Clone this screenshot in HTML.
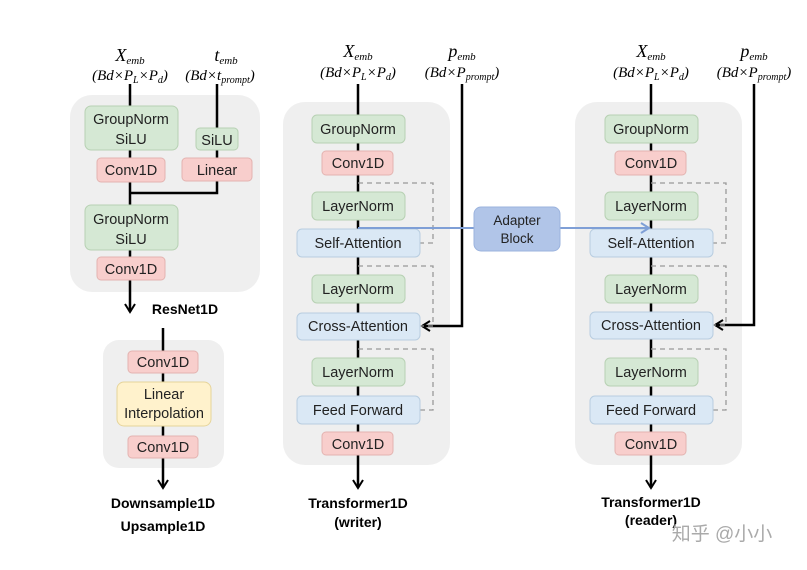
<!DOCTYPE html>
<html><head><meta charset="utf-8"><style>
body{margin:0;background:#fff;}
svg text{font-family:"Liberation Sans",sans-serif;}
.m{font-family:"Liberation Serif",serif;font-style:italic;}
</style></head><body>
<svg width="807" height="565" viewBox="0 0 807 565" xmlns="http://www.w3.org/2000/svg">
<defs>
<marker id="a" markerWidth="12" markerHeight="12" refX="9" refY="6" orient="auto" markerUnits="userSpaceOnUse"><path d="M1,1 L9,6 L1,11" fill="none" stroke="#000" stroke-width="2"/></marker>
<marker id="b" markerWidth="12" markerHeight="12" refX="9" refY="6" orient="auto" markerUnits="userSpaceOnUse"><path d="M1,1 L9,6 L1,11" fill="none" stroke="#7f9fd6" stroke-width="2"/></marker>
</defs>
<g fill="#efefef">
<rect x="70" y="95" width="190" height="197" rx="22"/>
<rect x="103" y="340" width="121" height="128" rx="16"/>
<rect x="283" y="102" width="167" height="363" rx="22"/>
<rect x="575" y="102" width="167" height="363" rx="22"/>
</g>
<g font-size="18" text-anchor="middle" fill="#000">
<text x="130" y="61" class="m">X<tspan font-size="11" dy="3">emb</tspan></text>
<text x="130" y="80" class="m" font-size="15">(Bd×P<tspan font-size="10" dy="3">L</tspan><tspan dy="-3">×P</tspan><tspan font-size="10" dy="3">d</tspan><tspan dy="-3">)</tspan></text>
<text x="226" y="61" class="m">t<tspan font-size="11" dy="3">emb</tspan></text>
<text x="220" y="80" class="m" font-size="15">(Bd×t<tspan font-size="10" dy="3">prompt</tspan><tspan dy="-3">)</tspan></text>
<text x="358" y="57" class="m">X<tspan font-size="11" dy="3">emb</tspan></text>
<text x="358" y="77" class="m" font-size="15">(Bd×P<tspan font-size="10" dy="3">L</tspan><tspan dy="-3">×P</tspan><tspan font-size="10" dy="3">d</tspan><tspan dy="-3">)</tspan></text>
<text x="462" y="57" class="m">p<tspan font-size="11" dy="3">emb</tspan></text>
<text x="462" y="77" class="m" font-size="15">(Bd×P<tspan font-size="10" dy="3">prompt</tspan><tspan dy="-3">)</tspan></text>
<text x="651" y="57" class="m">X<tspan font-size="11" dy="3">emb</tspan></text>
<text x="651" y="77" class="m" font-size="15">(Bd×P<tspan font-size="10" dy="3">L</tspan><tspan dy="-3">×P</tspan><tspan font-size="10" dy="3">d</tspan><tspan dy="-3">)</tspan></text>
<text x="754" y="57" class="m">p<tspan font-size="11" dy="3">emb</tspan></text>
<text x="754" y="77" class="m" font-size="15">(Bd×P<tspan font-size="10" dy="3">prompt</tspan><tspan dy="-3">)</tspan></text>
</g>
<g stroke="#000" stroke-width="2.5" fill="none">
<line x1="130" y1="84" x2="130" y2="312" marker-end="url(#a)"/>
<path d="M217 84 V193 H130"/>
<line x1="163" y1="328" x2="163" y2="488" marker-end="url(#a)"/>
<line x1="358" y1="84" x2="358" y2="488" marker-end="url(#a)"/>
<path d="M462 84 V326 H422" marker-end="url(#a)"/>
<line x1="651" y1="84" x2="651" y2="488" marker-end="url(#a)"/>
<path d="M754 84 V325 H715" marker-end="url(#a)"/>
</g>
<g stroke="#999" stroke-width="1.3" stroke-dasharray="5,4" fill="none">
<path d="M358 183 H433 V243 H420"/><path d="M358 266 H433 V326 H420"/><path d="M358 349 H433 V410 H420"/>
<path d="M651 183 H726 V243 H713"/><path d="M651 266 H726 V325 H713"/><path d="M651 349 H726 V410 H713"/>
</g>
<g stroke-width="1">
<g fill="#d5e8d4" stroke="#b7d1b3">
<rect x="85" y="106" width="93" height="44" rx="6"/><rect x="196" y="128" width="42" height="22" rx="4"/>
<rect x="85" y="205" width="93" height="45" rx="6"/>
<rect x="312" y="115" width="93" height="28" rx="5"/><rect x="312" y="192" width="93" height="28" rx="5"/><rect x="312" y="275" width="93" height="28" rx="5"/><rect x="312" y="358" width="93" height="28" rx="5"/>
<rect x="605" y="115" width="93" height="28" rx="5"/><rect x="605" y="192" width="93" height="28" rx="5"/><rect x="605" y="275" width="93" height="28" rx="5"/><rect x="605" y="358" width="93" height="28" rx="5"/>
</g>
<g fill="#f8cecc" stroke="#e3b3b0">
<rect x="97" y="158" width="68" height="24" rx="4"/><rect x="182" y="158" width="70" height="23" rx="4"/><rect x="97" y="257" width="68" height="23" rx="4"/>
<rect x="128" y="351" width="70" height="22" rx="4"/><rect x="128" y="436" width="70" height="22" rx="4"/>
<rect x="322" y="151" width="71" height="24" rx="4"/><rect x="322" y="432" width="71" height="23" rx="4"/>
<rect x="615" y="151" width="71" height="24" rx="4"/><rect x="615" y="432" width="71" height="23" rx="4"/>
</g>
<rect x="117" y="382" width="94" height="44" rx="7" fill="#fff2cc" stroke="#e6d49a"/>
<g fill="#dae8f5" stroke="#b8cde0">
<rect x="297" y="229" width="123" height="28" rx="5"/><rect x="297" y="313" width="123" height="27" rx="5"/><rect x="297" y="396" width="123" height="28" rx="5"/>
<rect x="590" y="229" width="123" height="28" rx="5"/><rect x="590" y="312" width="123" height="27" rx="5"/><rect x="590" y="396" width="123" height="28" rx="5"/>
</g>
</g>
<g stroke="#7f9fd6" stroke-width="2" fill="none">
<line x1="358" y1="228" x2="474" y2="228"/>
<line x1="560" y1="228" x2="649" y2="228" marker-end="url(#b)"/>
</g>
<rect x="474" y="207" width="86" height="44" rx="7" fill="#b1c5e8" stroke="#9bb3de"/>
<g font-size="14.5" text-anchor="middle" fill="#222">
<text x="131" y="124">GroupNorm</text><text x="131" y="144">SiLU</text>
<text x="217" y="145">SiLU</text><text x="131" y="175">Conv1D</text><text x="217" y="175">Linear</text>
<text x="131" y="224">GroupNorm</text><text x="131" y="244">SiLU</text><text x="131" y="274">Conv1D</text>
<text x="163" y="367">Conv1D</text><text x="164" y="399">Linear</text><text x="164" y="418">Interpolation</text><text x="163" y="452">Conv1D</text>
<text x="358" y="134">GroupNorm</text><text x="358" y="168">Conv1D</text><text x="358" y="211">LayerNorm</text><text x="358" y="248">Self-Attention</text>
<text x="358" y="294">LayerNorm</text><text x="358" y="331">Cross-Attention</text><text x="358" y="377">LayerNorm</text><text x="358" y="415">Feed Forward</text><text x="358" y="449">Conv1D</text>
<text x="651" y="134">GroupNorm</text><text x="651" y="168">Conv1D</text><text x="651" y="211">LayerNorm</text><text x="651" y="248">Self-Attention</text>
<text x="651" y="294">LayerNorm</text><text x="651" y="330">Cross-Attention</text><text x="651" y="377">LayerNorm</text><text x="651" y="415">Feed Forward</text><text x="651" y="449">Conv1D</text>
<text x="517" y="225" font-size="13.5">Adapter</text><text x="517" y="243" font-size="13.5">Block</text>
</g>
<g font-size="14" font-weight="bold" text-anchor="middle" fill="#000">
<text x="185" y="314">ResNet1D</text>
<text x="163" y="508">Downsample1D</text><text x="163" y="531">Upsample1D</text>
<text x="358" y="508">Transformer1D</text><text x="358" y="527">(writer)</text>
<text x="651" y="507">Transformer1D</text><text x="651" y="525">(reader)</text>
</g>
<text x="722" y="540" font-size="19" text-anchor="middle" fill="#aaa" style="font-family:'Liberation Sans','Noto Sans CJK SC',sans-serif">知乎 @小小</text>
</svg>
</body></html>
